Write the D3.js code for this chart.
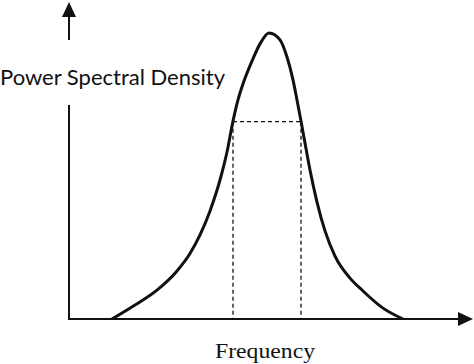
<!DOCTYPE html>
<html>
<head>
<meta charset="utf-8">
<script src="https://cdn.jsdelivr.net/npm/d3@7"></script>
<style>
	body { margin: 0; background: #fff; }
	svg { display: block; }
</style>
</head>
<body>
<div class="container"></div>
<script>
// curve: frequency (arbitrary units) and relative PSD
var freq = [10.75, 16.5, 22, 27, 30.25, 32.75, 35.25, 37.75, 39.5, 41, 42.25, 43.75, 45.75, 47.75, 50,
	52.75, 54.5, 56, 57, 58, 59, 60.25, 62, 64, 66.5, 70.25, 73.5, 78.5, 83.5];
var psd = [0, 0.049, 0.101, 0.168, 0.229, 0.294, 0.378, 0.486, 0.584, 0.692, 0.766, 0.832, 0.902, 0.962, 1.0,
	0.976, 0.916, 0.836, 0.766, 0.692, 0.615, 0.521, 0.409, 0.308, 0.220, 0.143, 0.098, 0.038, 0];
// bandwidth box
var band = [41, 58];
var bandLevel = 0.69;
var xLabel = "Frequency";
var yLabel = "Power Spectral Density";

(function() {
	var width = 474, height = 364;
	var svg = d3.select(".container").append("svg")
		.attr("width", width)
		.attr("height", height);

	var x = d3.scaleLinear().domain([0, 100]).range([69, 469]);
	var y = d3.scaleLinear().domain([0, 1]).range([319, 33]);
	var x0 = x(0), y0 = y(0);

	// x axis with arrow
	svg.append("line")
		.attr("x1", x0).attr("y1", y0)
		.attr("x2", 460).attr("y2", y0)
		.style("stroke", "#111").style("stroke-width", 2);
	svg.append("path")
		.attr("d", "M473," + y0 + "L458," + (y0 - 7) + "L458," + (y0 + 7) + "Z")
		.style("fill", "#111");

	// y axis: lower segment + detached arrow above the label
	svg.append("line")
		.attr("x1", x0).attr("y1", 105)
		.attr("x2", x0).attr("y2", y0 + 1)
		.style("stroke", "#111").style("stroke-width", 2);
	svg.append("line")
		.attr("x1", x0).attr("y1", 14)
		.attr("x2", x0).attr("y2", 40)
		.style("stroke", "#111").style("stroke-width", 2);
	svg.append("path")
		.attr("d", "M" + x0 + ",2L" + (x0 - 7) + ",17L" + (x0 + 7) + ",17Z")
		.style("fill", "#111");

	// dashed bandwidth box
	var dash = svg.append("g")
		.style("stroke", "#111")
		.style("stroke-width", 1.3)
		.style("stroke-dasharray", "4,3")
		.style("fill", "none");
	dash.append("line")
		.attr("x1", x(band[0])).attr("y1", y(bandLevel))
		.attr("x2", x(band[1])).attr("y2", y(bandLevel));
	band.forEach(function(f) {
		dash.append("line")
			.attr("x1", x(f)).attr("y1", y(bandLevel))
			.attr("x2", x(f)).attr("y2", y0);
	});

	// spectrum curve
	var pts = freq.map(function(f, i) { return [f, psd[i]]; });
	var line = d3.line()
		.x(function(d) { return x(d[0]); })
		.y(function(d) { return y(d[1]); })
		.curve(d3.curveMonotoneX);
	svg.append("path")
		.datum(pts)
		.attr("d", line)
		.style("fill", "none")
		.style("stroke", "#111")
		.style("stroke-width", 3);

	// labels
	svg.append("text")
		.attr("x", 0)
		.attr("y", 85)
		.attr("font-family", "Lato, 'Open Sans', sans-serif")
		.attr("font-size", 22)
		.attr("textLength", 225)
		.attr("lengthAdjust", "spacingAndGlyphs")
		.style("fill", "#111")
		.text(yLabel);

	svg.append("text")
		.attr("x", 215)
		.attr("y", 358)
		.attr("font-family", "'Liberation Serif', 'Times New Roman', serif")
		.attr("font-size", 22)
		.attr("textLength", 100)
		.attr("lengthAdjust", "spacingAndGlyphs")
		.style("fill", "#111")
		.text(xLabel);
})();
</script>
</body>
</html>
